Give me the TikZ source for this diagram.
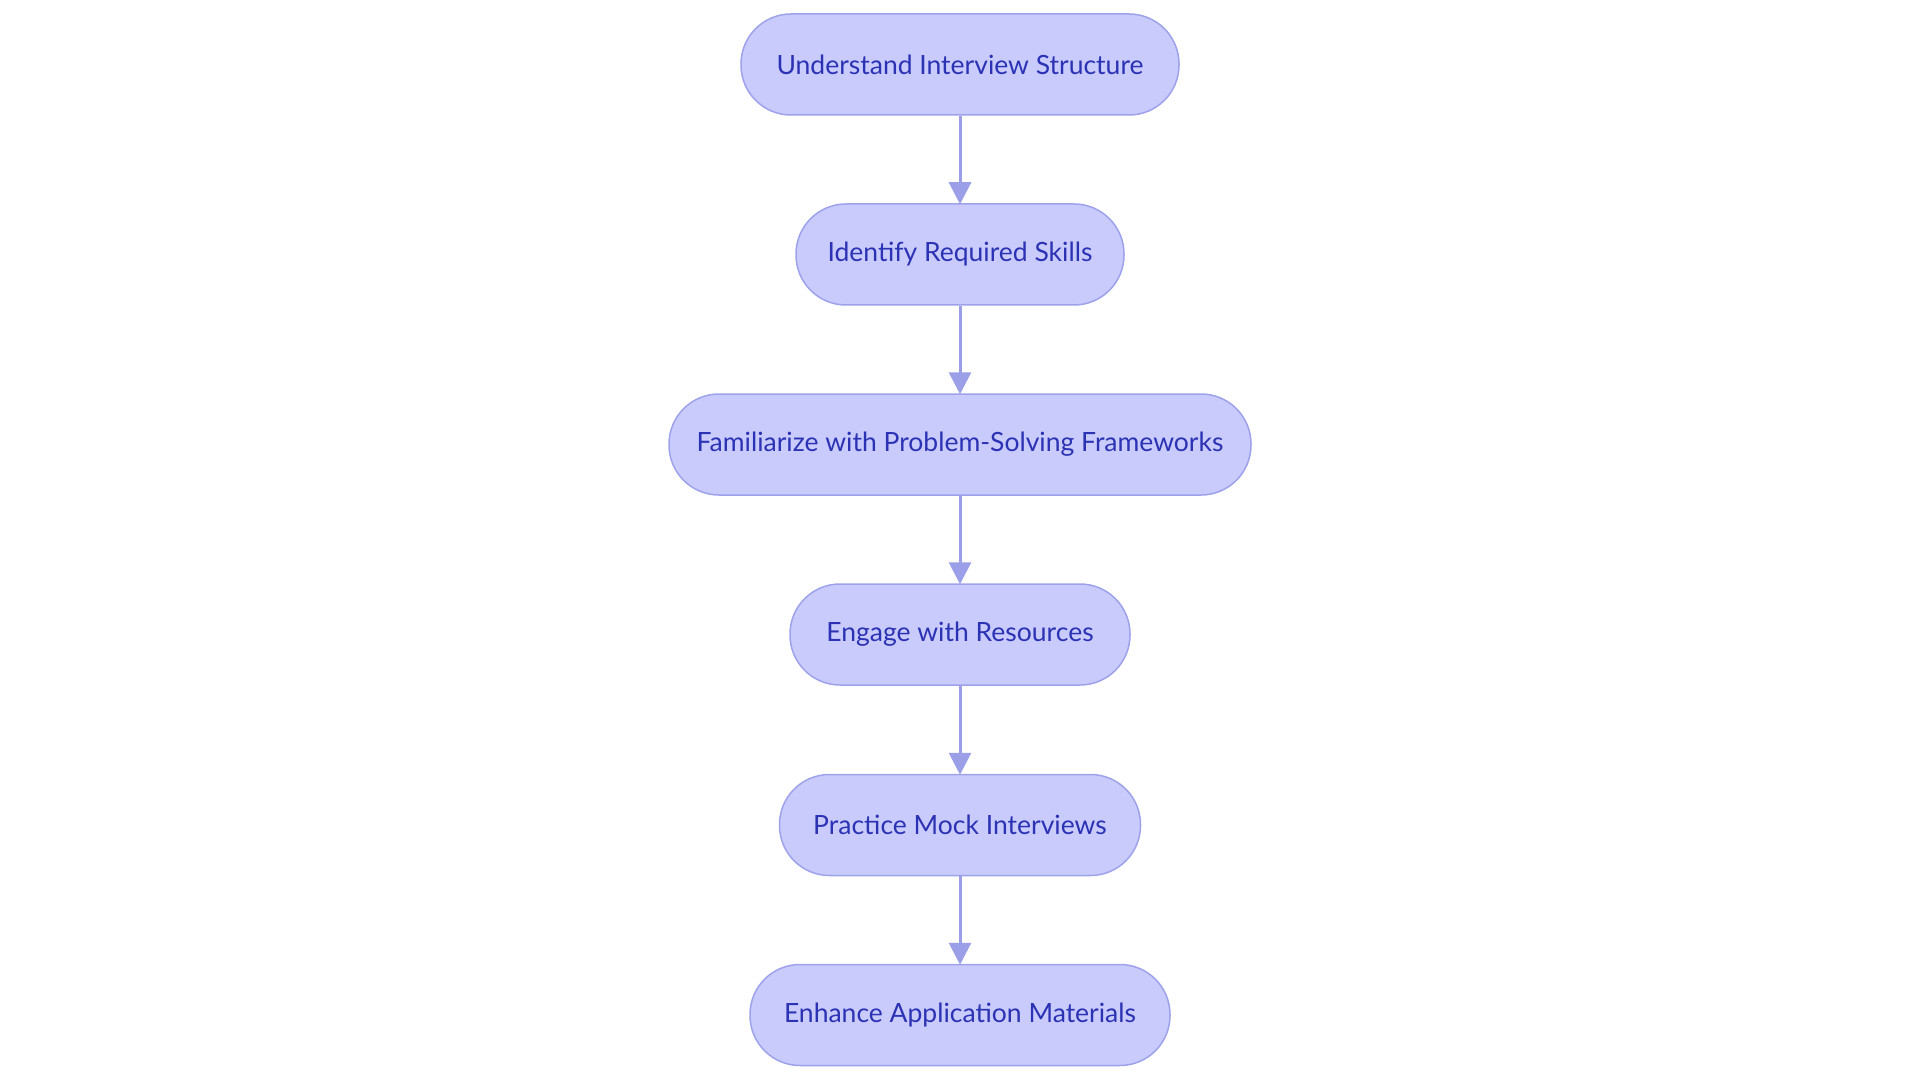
\documentclass[tikz,border=0pt]{standalone}
\usepackage{fontspec}
\setmainfont{Lato}
\usetikzlibrary{arrows.meta}
\definecolor{boxfill}{RGB}{200,203,252}
\definecolor{boxline}{RGB}{158,162,234}
\definecolor{arrowc}{RGB}{155,159,232}
\definecolor{txt}{RGB}{44,50,180}
\tikzset{
  stepbox/.style={draw=boxline, fill=boxfill, line width=1.5pt, rounded corners=50pt,
    minimum height=101pt, inner sep=0pt, text=txt, font=\fontsize{26.5}{30}\selectfont},
  flow/.style={draw=arrowc, line width=3pt, -{Triangle[length=22pt,width=22pt]}, shorten >=-1pt}
}
\begin{document}
\begin{tikzpicture}[x=1pt,y=-1pt]
\useasboundingbox (0,0) rectangle (1920,1083);
\node[stepbox, minimum width=438pt] (n1) at (960,64.5) {Understand Interview Structure};
\node[stepbox, minimum width=328pt] (n2) at (960,254.5) {Identify Required Skills};
\node[stepbox, minimum width=582pt] (n3) at (960,444.5) {Familiarize with Problem-Solving Frameworks};
\node[stepbox, minimum width=340pt] (n4) at (960,634.5) {Engage with Resources};
\node[stepbox, minimum width=361pt] (n5) at (960,825) {Practice Mock Interviews};
\node[stepbox, minimum width=420pt] (n6) at (960,1015) {Enhance Application Materials};
\draw[flow] (n1) -- (n2);
\draw[flow] (n2) -- (n3);
\draw[flow] (n3) -- (n4);
\draw[flow] (n4) -- (n5);
\draw[flow] (n5) -- (n6);
\end{tikzpicture}
\end{document}
